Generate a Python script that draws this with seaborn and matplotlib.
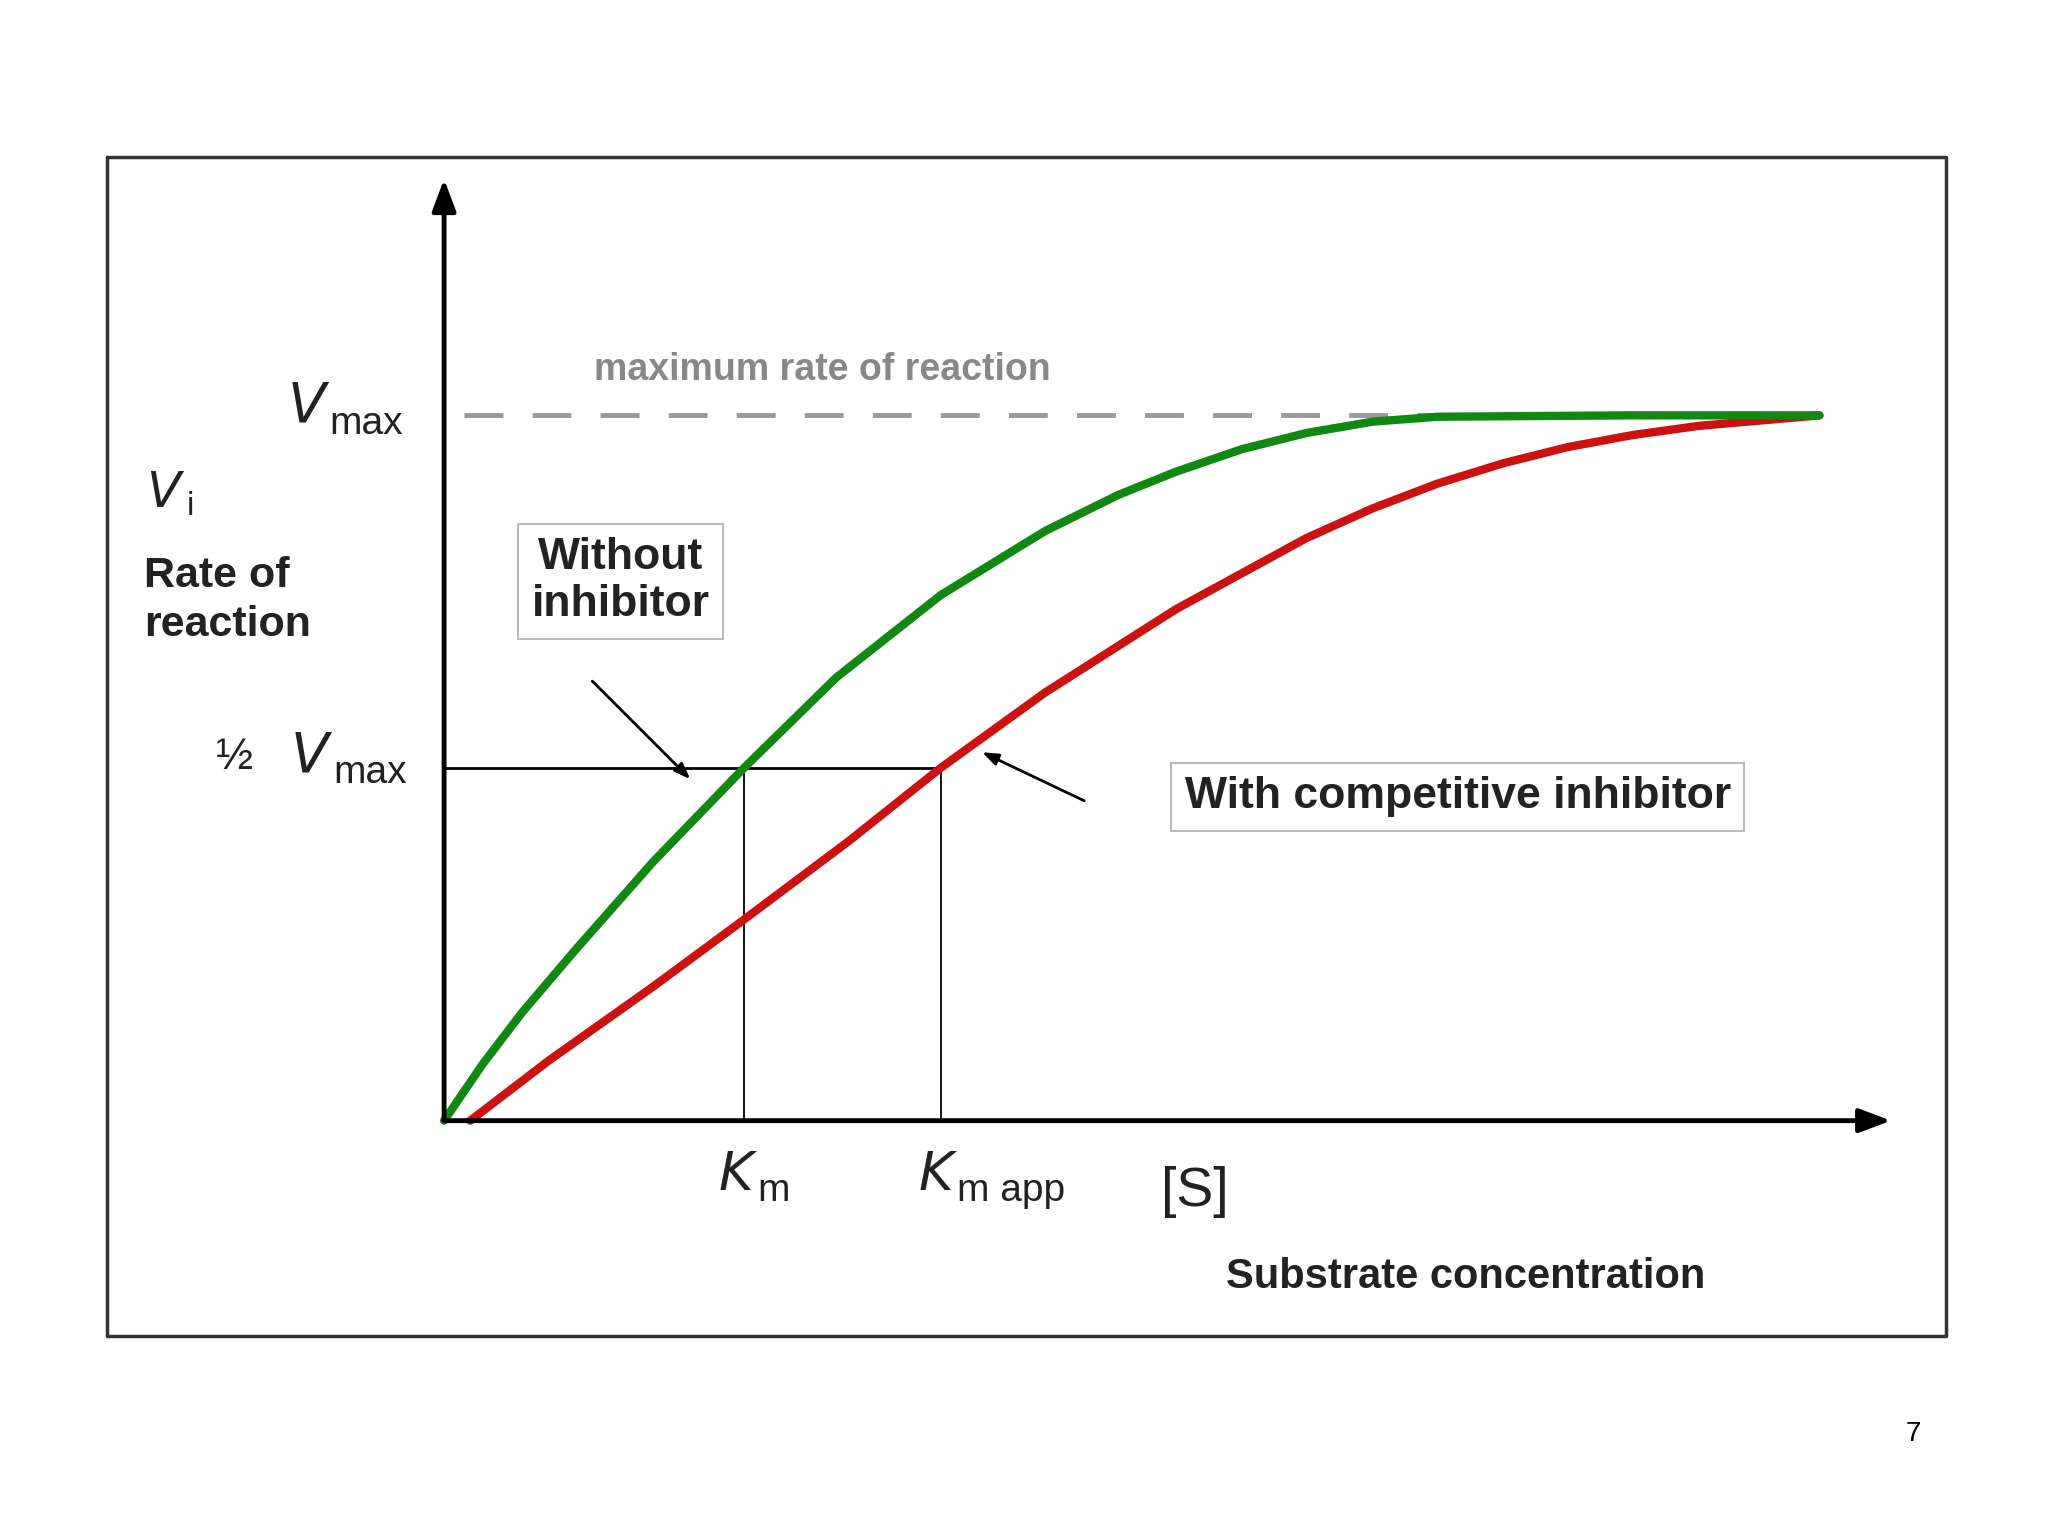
import matplotlib
matplotlib.use("Agg")
import matplotlib.pyplot as plt
import seaborn as sns
import numpy as np

sns.set_theme(style="white")
plt.rcParams['font.family'] = ['Liberation Sans', 'DejaVu Sans']

# data units: [S] (arbitrary) and rate as fraction of Vmax
green_x = [0.0, 0.28, 0.57, 0.95, 1.52, 2.18, 2.85, 3.61, 4.37, 4.9, 5.32, 5.8, 6.27, 6.75, 7.22, 8.64, 10.0]
green_y = [0.0, 0.08, 0.154, 0.241, 0.367, 0.5, 0.628, 0.745, 0.836, 0.887, 0.92, 0.952, 0.975, 0.991, 0.998, 1.0, 1.0]
red_x = [0.19, 0.76, 1.52, 2.18, 2.94, 3.61, 4.37, 5.32, 6.27, 6.75, 7.22, 7.7, 8.17, 8.64, 9.12, 10.0]
red_y = [0.0, 0.085, 0.19, 0.285, 0.396, 0.5, 0.607, 0.725, 0.826, 0.868, 0.903, 0.932, 0.955, 0.972, 0.985, 1.0]
Km, Km_app = 2.18, 3.61
Vmax, half_V = 1.0, 0.5

# mapping to canvas (reference layout)
X0, XS, Y0, YS = 340, 105.3, 858, 540
px = lambda x: X0 + np.asarray(x) * XS
py = lambda y: Y0 - np.asarray(y) * YS

fig = plt.figure(figsize=(20.48, 15.36), dpi=100)
ax = fig.add_axes([0, 0, 1, 1])
ax.set_xlim(0, 1568); ax.set_ylim(1176, 0); ax.axis('off')
fig.patch.set_facecolor('white')

# frame
ax.plot([82, 1490, 1490, 82, 82], [120, 120, 1023, 1023, 120], color='#333333', lw=2.5)

# axes arrows
ax.annotate('', xy=(340, 135), xytext=(340, 860),
            arrowprops=dict(arrowstyle='-|>,head_length=1.6,head_width=0.6', color='black', lw=3.5))
ax.annotate('', xy=(1450, 858), xytext=(338, 858),
            arrowprops=dict(arrowstyle='-|>,head_length=1.6,head_width=0.6', color='black', lw=3.5))

# Vmax dashed
ax.plot([355, 1393], [py(Vmax)] * 2, color='#999999', lw=3.5, dashes=(8, 6))
ax.text(630, 283, 'maximum rate of reaction', color='#888888', fontsize=27, fontweight='bold',
        ha='center', va='center')

# half Vmax guides
ax.plot([340, px(Km_app)], [py(half_V)] * 2, color='black', lw=2)
ax.plot([px(Km)] * 2, [py(half_V), Y0], color='black', lw=1.3)
ax.plot([px(Km_app)] * 2, [py(half_V), Y0], color='black', lw=1.3)

sns.lineplot(x=px(red_x), y=py(red_y), ax=ax, color='#cc1111', lw=6, sort=False,
             solid_joinstyle='round')
sns.lineplot(x=px(green_x), y=py(green_y), ax=ax, color='#118811', lw=6, sort=False,
             solid_joinstyle='round')

# labels
ax.text(220, 312, r'$V$', fontsize=40, ha='left', va='center', color='#222222')
ax.text(252, 325, 'max', fontsize=28, ha='left', va='center', color='#222222')
ax.text(165, 580, '½', fontsize=32, ha='left', va='center', color='#222222')
ax.text(222, 580, r'$V$', fontsize=40, ha='left', va='center', color='#222222')
ax.text(255, 592, 'max', fontsize=28, ha='left', va='center', color='#222222')
ax.text(112, 378, r'$V$', fontsize=36, ha='left', va='center', color='#222222')
ax.text(143, 388, 'i', fontsize=24, ha='left', va='center', color='#222222')
ax.text(110, 460, 'Rate of\nreaction', fontsize=31, fontweight='bold', ha='left', va='center',
        linespacing=1.3, color='#222222')

ax.text(565, 900, r'$K$', fontsize=38, ha='center', va='center', color='#222222')
ax.text(580, 912, 'm', fontsize=28, ha='left', va='center', color='#222222')
ax.text(718, 900, r'$K$', fontsize=38, ha='center', va='center', color='#222222')
ax.text(733, 912, 'm app', fontsize=28, ha='left', va='center', color='#222222')
ax.text(915, 913, '[S]', fontsize=40, ha='center', va='center', color='#222222')
ax.text(1122, 978, 'Substrate concentration', fontsize=30, fontweight='bold', ha='center',
        va='center', color='#222222')

box = dict(boxstyle='square,pad=0.3', fc='white', ec='#bbbbbb', lw=1.5)
ax.text(475, 445, 'Without\ninhibitor', fontsize=32, fontweight='bold', ha='center', va='center',
        linespacing=1.2, bbox=box, color='#222222')
ax.text(1116, 610, 'With competitive inhibitor', fontsize=32, fontweight='bold', ha='center',
        va='center', bbox=box, color='#222222')

ax.annotate('', xy=(530, 598), xytext=(452, 520),
            arrowprops=dict(arrowstyle='-|>,head_length=0.8,head_width=0.3', color='black', lw=2))
ax.annotate('', xy=(750, 575), xytext=(832, 614),
            arrowprops=dict(arrowstyle='-|>,head_length=0.8,head_width=0.3', color='black', lw=2))

ax.text(1465, 1098, '7', fontsize=20, ha='center', va='center', color='black')

fig.savefig('out.png', dpi=100, facecolor='white')
